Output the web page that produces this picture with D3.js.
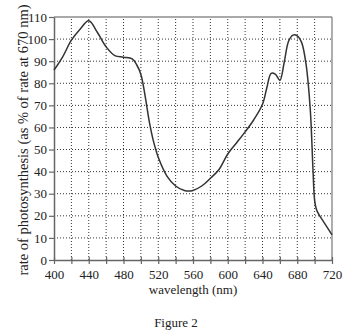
<!DOCTYPE html>
<html><head><meta charset="utf-8">
<script src="https://cdn.jsdelivr.net/npm/d3@7"></script>
<style>body{margin:0;background:#fff}svg{display:block}text{font-family:"Liberation Serif","DejaVu Serif",serif;fill:#222}</style>
</head><body><svg id="c" width="349" height="336"></svg>
<script>
const wavelength = [400,410,420,430,440,450,460,470,480,490,495,500,505,510,515,520,530,540,550,560,570,580,590,600,610,620,630,640,645,650,655,660,665,670,675,680,685,690,695,698,700,702,705,710,720];
const rate =       [86,92,99.5,104.5,108.3,103,96.5,92.5,91.8,91,88.5,84,74,62,53,46.5,38,33.5,31.5,31.5,33.5,37,41,48,53,58,63.5,70.5,78,84.5,84,81.3,89.5,99,101.8,101.5,98.5,89,68,42,27,23,20.5,17.5,11.4];
const xTicks = [400,440,480,520,560,600,640,680,720];
const xGrid = d3.range(400,721,20);
const yTicks = d3.range(0,111,10);

const svg = d3.select("#c");
const m = {l:54,r:17,t:17,b:76};
const W = 349, H = 336;
const x = d3.scaleLinear().domain([400,720]).range([m.l, W-m.r]);
const y = d3.scaleLinear().domain([0,110]).range([H-m.b, m.t]);

// grid
svg.append("g").selectAll("line").data(xGrid.slice(1,-1)).join("line")
  .attr("x1",d=>x(d)).attr("x2",d=>x(d)).attr("y1",y(0)).attr("y2",y(110))
  .attr("stroke","#333").attr("stroke-width",1).attr("stroke-dasharray","1,2");
svg.append("g").selectAll("line").data(yTicks.slice(1,-1)).join("line")
  .attr("x1",x(400)).attr("x2",x(720)).attr("y1",d=>y(d)).attr("y2",d=>y(d))
  .attr("stroke","#333").attr("stroke-width",1).attr("stroke-dasharray","1,2");

// frame top & right
svg.append("line").attr("x1",x(400)).attr("x2",x(720)).attr("y1",y(110)).attr("y2",y(110)).attr("stroke","#555").attr("stroke-width",1.2);
svg.append("line").attr("x1",x(720)).attr("x2",x(720)).attr("y1",y(110)).attr("y2",y(0)).attr("stroke","#777").attr("stroke-width",1.2);

// axes
const xAxis = svg.append("g").attr("transform",`translate(0,${y(0)})`)
  .call(d3.axisBottom(x).tickValues(xGrid).tickSize(4).tickSizeOuter(0).tickFormat(d=>xTicks.includes(d)?d:""));
xAxis.selectAll(".tick line").attr("y1",-3);
const yAxis = svg.append("g").attr("transform",`translate(${x(400)},0)`)
  .call(d3.axisLeft(y).tickValues(yTicks).tickSize(5).tickSizeOuter(0).tickPadding(2));
[xAxis,yAxis].forEach(g=>{
  g.select(".domain").attr("stroke","#666").attr("stroke-width",1.5);
  g.selectAll(".tick line").attr("stroke","#666").attr("stroke-width",1.2);
  g.selectAll("text").style("font-family","'Liberation Serif',serif").style("font-size","13px").attr("fill","#222");
});
xAxis.selectAll("text").attr("dy","0.9em");

// curve
const line = d3.line().x((d,i)=>x(wavelength[i])).y(d=>y(d)).curve(d3.curveCatmullRom.alpha(0.5));
svg.append("path").datum(rate).attr("d",line).attr("fill","none").attr("stroke","#333").attr("stroke-width",1.5);

// titles
svg.append("text").attr("transform",`translate(27.5,140) rotate(-90)`).attr("text-anchor","middle")
  .style("font-size","14.5px").text("rate of photosynthesis (as % of rate at 670 nm)");
svg.append("text").attr("x",(x(400)+x(720))/2).attr("y",294).attr("text-anchor","middle").style("font-size","13px").text("wavelength (nm)");
svg.append("text").attr("x",176).attr("y",327).attr("text-anchor","middle").style("font-size","13px").text("Figure 2");
</script></body></html>
